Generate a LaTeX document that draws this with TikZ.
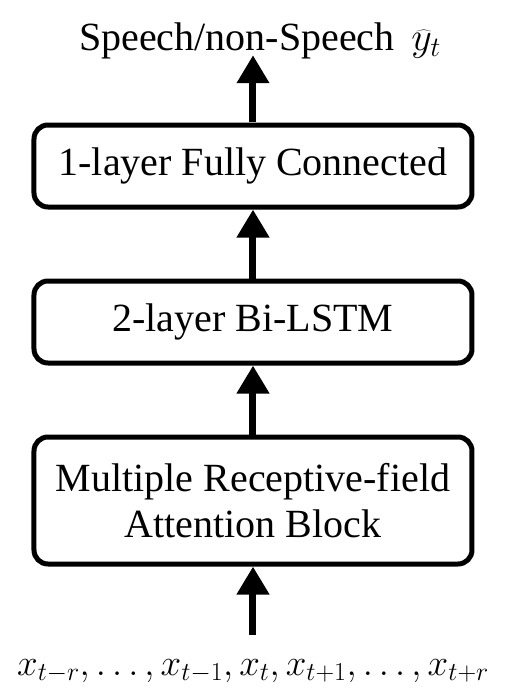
\RequirePackage{fix-cm}
\documentclass[tikz,border=0pt]{standalone}
\usepackage{fontspec}
\setmainfont{Liberation Serif}
\usetikzlibrary{arrows.meta}
\tikzset{
  % node options
  block/.style={rectangle,draw,rounded corners=14pt,line width=5pt,minimum width=438pt,inner sep=0pt,align=center,font=\fontsize{40}{46}\selectfont},
  blockShort/.style={block,minimum height=82pt},
  blockTall/.style={block,minimum height=127pt},
  signal/.style={inner sep=0pt,text height=40pt,font=\fontsize{40}{46}\selectfont},
  % path options
  flow/.style={-{Triangle[width=31pt,length=28pt]},line width=7pt},
  % matrix options
  row sep=69pt,
}
\begin{document}
\begin{tikzpicture}
      \matrix {
        \node[signal,text depth=5pt,xshift=7pt] (output) {Speech/non-Speech \,$\widehat{y}_t$}; \\[-1.5pt]
        \node[blockShort] (fc) {1-layer Fully Connected}; \\
        \node[blockShort] (lstm) {2-layer Bi-LSTM}; \\
        \node[blockTall] (mrab) {Multiple Receptive-field\\Attention Block}; \\[-0.5pt]
        \node[signal,text depth=10pt,font=\fontsize{37}{44}\selectfont] (input) {$x_{t-r},\ldots,x_{t-1},x_t,x_{t+1},\ldots,x_{t+r}$}; \\
      };
      \draw[flow] (input) to (mrab);
      \draw[flow] (mrab) to (lstm);
      \draw[flow] (lstm) to (fc);
      \draw[flow] (fc.north) to (fc.north |- output.south);
      \path[use as bounding box] (fc.north) ++(-253pt,122.5pt) rectangle ++(506pt,-694pt);
    \end{tikzpicture}
\end{document}
